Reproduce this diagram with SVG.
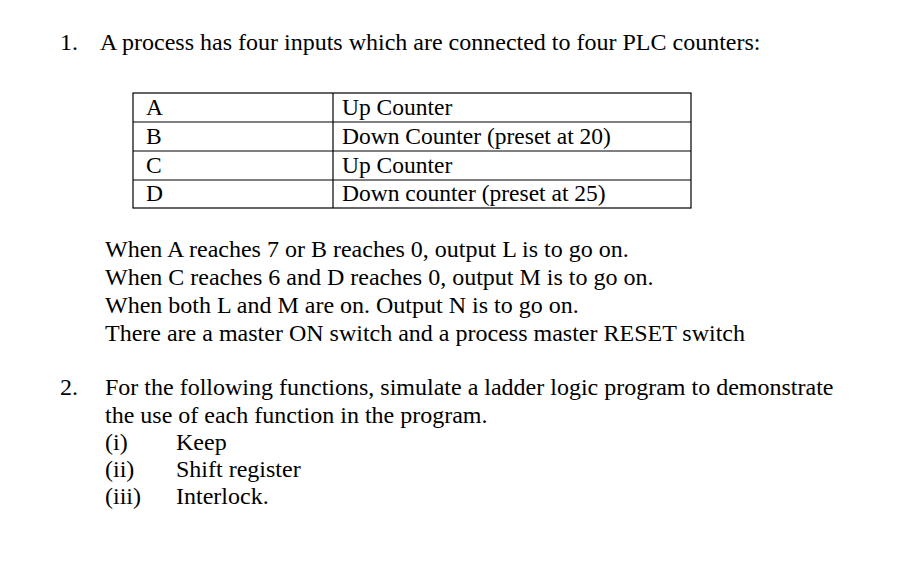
<svg xmlns="http://www.w3.org/2000/svg" width="910" height="566" viewBox="0 0 910 566">
<style>
text{font-family:"Liberation Serif","Times New Roman",serif;font-size:24px;fill:#000}
.t{font-size:23.5px}
.g line,.g rect{stroke:#000;stroke-width:1.2;fill:none}
</style>
<rect x="0" y="0" width="910" height="566" fill="#fff"/>
<text x="60" y="50">1.</text>
<text x="100" y="50">A process has four inputs which are connected to four PLC counters:</text>
<g class="g">
<rect x="133" y="93" width="558" height="115"/>
<line x1="133" y1="122" x2="691" y2="122"/>
<line x1="133" y1="151" x2="691" y2="151"/>
<line x1="133" y1="180" x2="691" y2="180"/>
<line x1="333" y1="93" x2="333" y2="208"/>
</g>
<text class="t" x="146" y="115">A</text>
<text class="t" x="146" y="144">B</text>
<text class="t" x="146" y="173">C</text>
<text class="t" x="146" y="201">D</text>
<text class="t" x="342" y="115">Up Counter</text>
<text class="t" x="342" y="144">Down Counter (preset at 20)</text>
<text class="t" x="342" y="173">Up Counter</text>
<text class="t" x="342" y="201">Down counter (preset at 25)</text>
<text x="105" y="257">When A reaches 7 or B reaches 0, output L is to go on.</text>
<text x="105" y="285">When C reaches 6 and D reaches 0, output M is to go on.</text>
<text x="105" y="313">When both L and M are on. Output N is to go on.</text>
<text x="105" y="341">There are a master ON switch and a process master RESET switch</text>
<text x="60" y="395">2.</text>
<text x="105" y="395">For the following functions, simulate a ladder logic program to demonstrate</text>
<text x="105" y="423">the use of each function in the program.</text>
<text x="105" y="450">(i)</text>
<text x="176" y="450">Keep</text>
<text x="105" y="477">(ii)</text>
<text x="176" y="477">Shift register</text>
<text x="105" y="504">(iii)</text>
<text x="176" y="504">Interlock.</text>
</svg>
